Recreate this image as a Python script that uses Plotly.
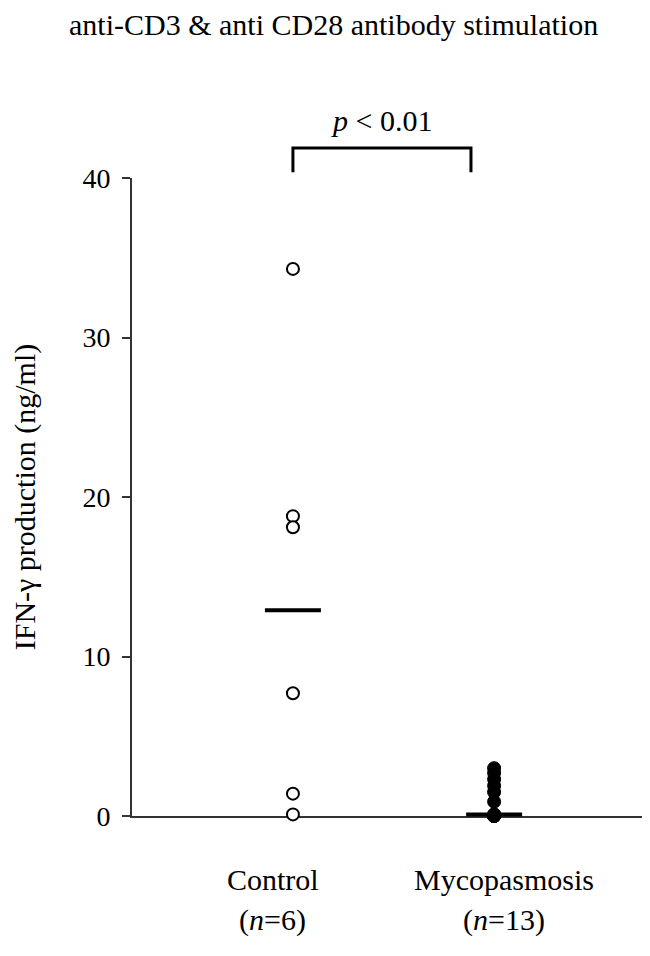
import plotly.graph_objects as go

# groups and values (ng/ml)
groups = ["Control", "Mycopasmosis"]
group_n = [6, 13]
control_vals = [34.3, 18.8, 18.1, 7.7, 1.4, 0.1]
myco_vals = [3.0, 2.7, 2.3, 1.9, 1.5, 0.9, 0.1, 0.1, 0.0, 0.0, 0.0, 0.0, 0.0]
medians = [12.9, 0.1]

y_ticks = [0, 10, 20, 30, 40]
title_text = "anti-CD3 & anti CD28 antibody stimulation"
p_text = "<i>p</i> < 0.01"

FONT = "Liberation Serif"
x_pos = [0, 1]
x_range = [-0.80, 1.765]


def to_paper(x):
    return (x - x_range[0]) / (x_range[1] - x_range[0])


fig = go.Figure()

fig.add_trace(go.Scatter(
    x=[x_pos[0]] * len(control_vals), y=control_vals, mode="markers",
    marker=dict(symbol="circle", size=12, color="white", line=dict(color="black", width=2)),
    cliponaxis=False, showlegend=False))

fig.add_trace(go.Scatter(
    x=[x_pos[1]] * len(myco_vals), y=myco_vals, mode="markers",
    marker=dict(symbol="circle", size=13, color="black", line=dict(color="black", width=1)),
    cliponaxis=False, showlegend=False))

# median bars
fig.add_trace(go.Scatter(
    x=x_pos, y=medians, mode="markers",
    marker=dict(symbol="line-ew-open", size=40, color="black", line=dict(color="black", width=4)),
    cliponaxis=False, showlegend=False))

# significance bracket
bx0, bx1 = to_paper(0.0), to_paper(0.885)
fig.add_shape(type="path", xref="paper", yref="paper",
              path=f"M {bx0} 1.009 L {bx0} 1.047 L {bx1} 1.047 L {bx1} 1.009",
              line=dict(color="black", width=3))
fig.add_annotation(x=(bx0 + bx1) / 2, y=1.09, xref="paper", yref="paper", yanchor="middle",
                   text=p_text, showarrow=False, font=dict(family=FONT, size=30, color="black"))

# title as a centred annotation over the whole page
fig.add_annotation(x=0.39, y=1.24, xref="paper", yref="paper", yanchor="middle",
                   text=title_text, showarrow=False,
                   font=dict(family=FONT, size=30, color="black"))

# category labels, two lines each
label_x = [-0.10, 1.05]
for lx, g, n in zip(label_x, groups, group_n):
    fig.add_annotation(x=lx, y=-0.10, xref="x", yref="paper", yanchor="middle",
                       text=g, showarrow=False, font=dict(family=FONT, size=30, color="black"))
    fig.add_annotation(x=lx, y=-0.163, xref="x", yref="paper", yanchor="middle",
                       text=f"(<i>n</i>={n})", showarrow=False,
                       font=dict(family=FONT, size=30, color="black"))

fig.update_layout(
    width=650, height=956,
    margin=dict(l=124, r=10, t=170, b=148),
    plot_bgcolor="white", paper_bgcolor="white",
    font=dict(family=FONT, size=28, color="black"),
    xaxis=dict(range=x_range, showline=True, linecolor="#333", linewidth=2,
               showticklabels=False, ticks="", showgrid=False, zeroline=False,
               layer="below traces"),
    yaxis=dict(range=[0, 40], tickvals=y_ticks, showline=True, linecolor="#333", linewidth=2,
               ticks="outside", ticklen=8, tickwidth=2, tickcolor="#333", showgrid=False,
               ticklabelstandoff=6, zeroline=False, layer="below traces",
               tickfont=dict(family=FONT, size=28),
               title=dict(text="IFN-γ production (ng/ml)", standoff=44,
                          font=dict(family=FONT, size=30))),
)

fig.write_html("out.html")
